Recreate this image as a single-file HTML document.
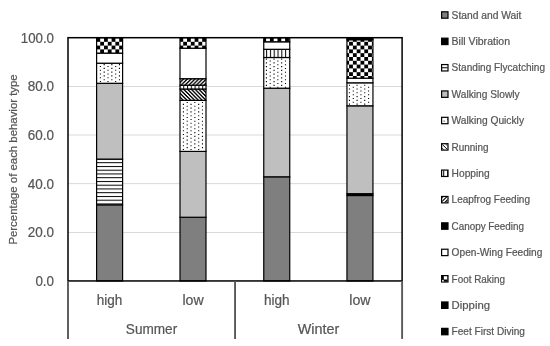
<!DOCTYPE html>
<html lang="en"><head><meta charset="utf-8"><title>Percentage of each behavior type</title>
<style>
html,body{margin:0;padding:0;background:#fff;}
body{width:550px;height:346px;overflow:hidden;}
svg{display:block;}
text{font-family:"Liberation Sans",Arial,sans-serif;fill:#565656;stroke:#565656;stroke-width:0.22px;}
</style></head><body>
<svg width="550" height="346" viewBox="0 0 550 346">
<defs>
<pattern id="hs1" patternUnits="userSpaceOnUse" x="1.4" y="0.95" width="3.8" height="3.75"><rect width="7.6" height="7.6" fill="#fff"/><rect x="0" y="0" width="3.8" height="1" fill="#000"/></pattern>
<pattern id="vs1" patternUnits="userSpaceOnUse" x="1.4" y="0" width="3.8" height="3.8"><rect width="7.6" height="7.6" fill="#fff"/><rect x="0.05" y="0" width="1" height="3.8" fill="#000"/></pattern>
<pattern id="dt1" patternUnits="userSpaceOnUse" x="1.4" y="0" width="7.6" height="3.8"><rect width="7.6" height="7.6" fill="#fff"/><g fill="#000"><rect x="-0.33" y="1.48" width="1.05" height="1.05"/><rect x="7.27" y="1.48" width="1.05" height="1.05"/><rect x="3.48" y="-0.43" width="1.05" height="1.05"/><rect x="3.48" y="3.38" width="1.05" height="1.05"/></g></pattern>
<pattern id="ck1" patternUnits="userSpaceOnUse" x="1.4" y="0" width="7.6" height="7.6"><rect width="7.6" height="7.6" fill="#fff"/><rect x="3.8" y="0" width="3.8" height="3.8" fill="#000"/><rect x="0" y="3.8" width="3.8" height="3.8" fill="#000"/></pattern>
<pattern id="dd1" patternUnits="userSpaceOnUse" x="1.40" y="0" width="3.8" height="3.8"><rect width="7.6" height="7.6" fill="#fff"/><g fill="#000"><rect x="1.90" y="0.00" width="0.97" height="0.97"/><rect x="2.85" y="0.00" width="0.97" height="0.97"/><rect x="2.85" y="0.95" width="0.97" height="0.97"/><rect x="0.00" y="0.95" width="0.97" height="0.97"/><rect x="0.00" y="1.90" width="0.97" height="0.97"/><rect x="0.95" y="1.90" width="0.97" height="0.97"/><rect x="0.95" y="2.85" width="0.97" height="0.97"/><rect x="1.90" y="2.85" width="0.97" height="0.97"/></g></pattern>
<pattern id="du1" patternUnits="userSpaceOnUse" x="1.40" y="0" width="3.8" height="3.8"><rect width="7.6" height="7.6" fill="#fff"/><g fill="#000"><rect x="1.90" y="0.00" width="0.97" height="0.97"/><rect x="2.85" y="0.00" width="0.97" height="0.97"/><rect x="0.95" y="0.95" width="0.97" height="0.97"/><rect x="1.90" y="0.95" width="0.97" height="0.97"/><rect x="0.00" y="1.90" width="0.97" height="0.97"/><rect x="0.95" y="1.90" width="0.97" height="0.97"/><rect x="2.85" y="2.85" width="0.97" height="0.97"/><rect x="0.00" y="2.85" width="0.97" height="0.97"/></g></pattern>
<pattern id="hs2" patternUnits="userSpaceOnUse" x="0.8" y="0.95" width="3.8" height="3.75"><rect width="7.6" height="7.6" fill="#fff"/><rect x="0" y="0" width="3.8" height="1" fill="#000"/></pattern>
<pattern id="vs2" patternUnits="userSpaceOnUse" x="0.8" y="0" width="3.8" height="3.8"><rect width="7.6" height="7.6" fill="#fff"/><rect x="0.05" y="0" width="1" height="3.8" fill="#000"/></pattern>
<pattern id="dt2" patternUnits="userSpaceOnUse" x="0.8" y="0" width="7.6" height="3.8"><rect width="7.6" height="7.6" fill="#fff"/><g fill="#000"><rect x="-0.33" y="1.48" width="1.05" height="1.05"/><rect x="7.27" y="1.48" width="1.05" height="1.05"/><rect x="3.48" y="-0.43" width="1.05" height="1.05"/><rect x="3.48" y="3.38" width="1.05" height="1.05"/></g></pattern>
<pattern id="ck2" patternUnits="userSpaceOnUse" x="0.8" y="0" width="7.6" height="7.6"><rect width="7.6" height="7.6" fill="#fff"/><rect x="3.8" y="0" width="3.8" height="3.8" fill="#000"/><rect x="0" y="3.8" width="3.8" height="3.8" fill="#000"/></pattern>
<pattern id="dd2" patternUnits="userSpaceOnUse" x="0.80" y="0" width="3.8" height="3.8"><rect width="7.6" height="7.6" fill="#fff"/><g fill="#000"><rect x="1.90" y="0.00" width="0.97" height="0.97"/><rect x="2.85" y="0.00" width="0.97" height="0.97"/><rect x="2.85" y="0.95" width="0.97" height="0.97"/><rect x="0.00" y="0.95" width="0.97" height="0.97"/><rect x="0.00" y="1.90" width="0.97" height="0.97"/><rect x="0.95" y="1.90" width="0.97" height="0.97"/><rect x="0.95" y="2.85" width="0.97" height="0.97"/><rect x="1.90" y="2.85" width="0.97" height="0.97"/></g></pattern>
<pattern id="du2" patternUnits="userSpaceOnUse" x="0.80" y="0" width="3.8" height="3.8"><rect width="7.6" height="7.6" fill="#fff"/><g fill="#000"><rect x="1.90" y="0.00" width="0.97" height="0.97"/><rect x="2.85" y="0.00" width="0.97" height="0.97"/><rect x="0.95" y="0.95" width="0.97" height="0.97"/><rect x="1.90" y="0.95" width="0.97" height="0.97"/><rect x="0.00" y="1.90" width="0.97" height="0.97"/><rect x="0.95" y="1.90" width="0.97" height="0.97"/><rect x="2.85" y="2.85" width="0.97" height="0.97"/><rect x="0.00" y="2.85" width="0.97" height="0.97"/></g></pattern>
<pattern id="hs3" patternUnits="userSpaceOnUse" x="0.1" y="0.95" width="3.8" height="3.75"><rect width="7.6" height="7.6" fill="#fff"/><rect x="0" y="0" width="3.8" height="1" fill="#000"/></pattern>
<pattern id="vs3" patternUnits="userSpaceOnUse" x="0.1" y="0" width="3.8" height="3.8"><rect width="7.6" height="7.6" fill="#fff"/><rect x="0.05" y="0" width="1" height="3.8" fill="#000"/></pattern>
<pattern id="dt3" patternUnits="userSpaceOnUse" x="0.1" y="0" width="7.6" height="3.8"><rect width="7.6" height="7.6" fill="#fff"/><g fill="#000"><rect x="-0.33" y="1.48" width="1.05" height="1.05"/><rect x="7.27" y="1.48" width="1.05" height="1.05"/><rect x="3.48" y="-0.43" width="1.05" height="1.05"/><rect x="3.48" y="3.38" width="1.05" height="1.05"/></g></pattern>
<pattern id="ck3" patternUnits="userSpaceOnUse" x="0.1" y="0" width="7.6" height="7.6"><rect width="7.6" height="7.6" fill="#fff"/><rect x="3.8" y="0" width="3.8" height="3.8" fill="#000"/><rect x="0" y="3.8" width="3.8" height="3.8" fill="#000"/></pattern>
<pattern id="dd3" patternUnits="userSpaceOnUse" x="0.10" y="0" width="3.8" height="3.8"><rect width="7.6" height="7.6" fill="#fff"/><g fill="#000"><rect x="1.90" y="0.00" width="0.97" height="0.97"/><rect x="2.85" y="0.00" width="0.97" height="0.97"/><rect x="2.85" y="0.95" width="0.97" height="0.97"/><rect x="0.00" y="0.95" width="0.97" height="0.97"/><rect x="0.00" y="1.90" width="0.97" height="0.97"/><rect x="0.95" y="1.90" width="0.97" height="0.97"/><rect x="0.95" y="2.85" width="0.97" height="0.97"/><rect x="1.90" y="2.85" width="0.97" height="0.97"/></g></pattern>
<pattern id="du3" patternUnits="userSpaceOnUse" x="0.10" y="0" width="3.8" height="3.8"><rect width="7.6" height="7.6" fill="#fff"/><g fill="#000"><rect x="1.90" y="0.00" width="0.97" height="0.97"/><rect x="2.85" y="0.00" width="0.97" height="0.97"/><rect x="0.95" y="0.95" width="0.97" height="0.97"/><rect x="1.90" y="0.95" width="0.97" height="0.97"/><rect x="0.00" y="1.90" width="0.97" height="0.97"/><rect x="0.95" y="1.90" width="0.97" height="0.97"/><rect x="2.85" y="2.85" width="0.97" height="0.97"/><rect x="0.00" y="2.85" width="0.97" height="0.97"/></g></pattern>
<pattern id="hs4" patternUnits="userSpaceOnUse" x="-0.5" y="0.95" width="3.8" height="3.75"><rect width="7.6" height="7.6" fill="#fff"/><rect x="0" y="0" width="3.8" height="1" fill="#000"/></pattern>
<pattern id="vs4" patternUnits="userSpaceOnUse" x="-0.5" y="0" width="3.8" height="3.8"><rect width="7.6" height="7.6" fill="#fff"/><rect x="0.05" y="0" width="1" height="3.8" fill="#000"/></pattern>
<pattern id="dt4" patternUnits="userSpaceOnUse" x="-0.5" y="0" width="7.6" height="3.8"><rect width="7.6" height="7.6" fill="#fff"/><g fill="#000"><rect x="-0.33" y="1.48" width="1.05" height="1.05"/><rect x="7.27" y="1.48" width="1.05" height="1.05"/><rect x="3.48" y="-0.43" width="1.05" height="1.05"/><rect x="3.48" y="3.38" width="1.05" height="1.05"/></g></pattern>
<pattern id="ck4" patternUnits="userSpaceOnUse" x="-0.5" y="0" width="7.6" height="7.6"><rect width="7.6" height="7.6" fill="#fff"/><rect x="3.8" y="0" width="3.8" height="3.8" fill="#000"/><rect x="0" y="3.8" width="3.8" height="3.8" fill="#000"/></pattern>
<pattern id="dd4" patternUnits="userSpaceOnUse" x="-0.50" y="0" width="3.8" height="3.8"><rect width="7.6" height="7.6" fill="#fff"/><g fill="#000"><rect x="1.90" y="0.00" width="0.97" height="0.97"/><rect x="2.85" y="0.00" width="0.97" height="0.97"/><rect x="2.85" y="0.95" width="0.97" height="0.97"/><rect x="0.00" y="0.95" width="0.97" height="0.97"/><rect x="0.00" y="1.90" width="0.97" height="0.97"/><rect x="0.95" y="1.90" width="0.97" height="0.97"/><rect x="0.95" y="2.85" width="0.97" height="0.97"/><rect x="1.90" y="2.85" width="0.97" height="0.97"/></g></pattern>
<pattern id="du4" patternUnits="userSpaceOnUse" x="-0.50" y="0" width="3.8" height="3.8"><rect width="7.6" height="7.6" fill="#fff"/><g fill="#000"><rect x="1.90" y="0.00" width="0.97" height="0.97"/><rect x="2.85" y="0.00" width="0.97" height="0.97"/><rect x="0.95" y="0.95" width="0.97" height="0.97"/><rect x="1.90" y="0.95" width="0.97" height="0.97"/><rect x="0.00" y="1.90" width="0.97" height="0.97"/><rect x="0.95" y="1.90" width="0.97" height="0.97"/><rect x="2.85" y="2.85" width="0.97" height="0.97"/><rect x="0.00" y="2.85" width="0.97" height="0.97"/></g></pattern>
</defs>
<rect width="550" height="346" fill="#fff"/>
<line x1="68.0" x2="402.1" y1="232.50" y2="232.50" stroke="#d9d9d9" stroke-width="1"/>
<line x1="68.0" x2="402.1" y1="183.65" y2="183.65" stroke="#d9d9d9" stroke-width="1"/>
<line x1="68.0" x2="402.1" y1="135.00" y2="135.00" stroke="#d9d9d9" stroke-width="1"/>
<line x1="68.0" x2="402.1" y1="86.50" y2="86.50" stroke="#d9d9d9" stroke-width="1"/>
<rect x="96.60" y="204.80" width="26.0" height="76.15" fill="#7f7f7f" stroke="#000" stroke-width="1.2"/>
<rect x="96.60" y="159.10" width="26.0" height="45.70" fill="url(#hs1)" stroke="#000" stroke-width="1.2"/>
<rect x="96.60" y="83.30" width="26.0" height="75.80" fill="#bfbfbf" stroke="#000" stroke-width="1.2"/>
<rect x="96.60" y="63.20" width="26.0" height="20.10" fill="#fff" stroke="#000" stroke-width="1.2"/>
<path fill="#000" d="M99.85,65.95h1.1v1.1h-1.1zM107.49,65.95h1.1v1.1h-1.1zM115.13,65.95h1.1v1.1h-1.1zM99.85,69.71h1.1v1.1h-1.1zM107.49,69.71h1.1v1.1h-1.1zM115.13,69.71h1.1v1.1h-1.1zM99.85,73.47h1.1v1.1h-1.1zM107.49,73.47h1.1v1.1h-1.1zM115.13,73.47h1.1v1.1h-1.1zM99.85,77.23h1.1v1.1h-1.1zM107.49,77.23h1.1v1.1h-1.1zM115.13,77.23h1.1v1.1h-1.1zM99.85,80.99h1.1v1.1h-1.1zM107.49,80.99h1.1v1.1h-1.1zM115.13,80.99h1.1v1.1h-1.1zM103.65,64.09h1.1v1.1h-1.1zM111.29,64.09h1.1v1.1h-1.1zM118.93,64.09h1.1v1.1h-1.1zM103.65,67.85h1.1v1.1h-1.1zM111.29,67.85h1.1v1.1h-1.1zM118.93,67.85h1.1v1.1h-1.1zM103.65,71.61h1.1v1.1h-1.1zM111.29,71.61h1.1v1.1h-1.1zM118.93,71.61h1.1v1.1h-1.1zM103.65,75.37h1.1v1.1h-1.1zM111.29,75.37h1.1v1.1h-1.1zM118.93,75.37h1.1v1.1h-1.1zM103.65,79.13h1.1v1.1h-1.1zM111.29,79.13h1.1v1.1h-1.1zM118.93,79.13h1.1v1.1h-1.1z"/>
<rect x="96.60" y="53.10" width="26.0" height="10.10" fill="#fff" stroke="#000" stroke-width="1.2"/>
<rect x="96.60" y="37.70" width="26.0" height="15.40" fill="url(#ck1)" stroke="#000" stroke-width="1.2"/>
<rect x="180.00" y="217.25" width="26.0" height="63.70" fill="#7f7f7f" stroke="#000" stroke-width="1.2"/>
<rect x="180.00" y="151.40" width="26.0" height="65.85" fill="#bfbfbf" stroke="#000" stroke-width="1.2"/>
<rect x="180.00" y="100.40" width="26.0" height="51.00" fill="#fff" stroke="#000" stroke-width="1.2"/>
<path fill="#000" d="M182.85,103.85h1.1v1.1h-1.1zM190.49,103.85h1.1v1.1h-1.1zM198.13,103.85h1.1v1.1h-1.1zM182.85,107.61h1.1v1.1h-1.1zM190.49,107.61h1.1v1.1h-1.1zM198.13,107.61h1.1v1.1h-1.1zM182.85,111.37h1.1v1.1h-1.1zM190.49,111.37h1.1v1.1h-1.1zM198.13,111.37h1.1v1.1h-1.1zM182.85,115.13h1.1v1.1h-1.1zM190.49,115.13h1.1v1.1h-1.1zM198.13,115.13h1.1v1.1h-1.1zM182.85,118.89h1.1v1.1h-1.1zM190.49,118.89h1.1v1.1h-1.1zM198.13,118.89h1.1v1.1h-1.1zM182.85,122.65h1.1v1.1h-1.1zM190.49,122.65h1.1v1.1h-1.1zM198.13,122.65h1.1v1.1h-1.1zM182.85,126.41h1.1v1.1h-1.1zM190.49,126.41h1.1v1.1h-1.1zM198.13,126.41h1.1v1.1h-1.1zM182.85,130.17h1.1v1.1h-1.1zM190.49,130.17h1.1v1.1h-1.1zM198.13,130.17h1.1v1.1h-1.1zM182.85,133.93h1.1v1.1h-1.1zM190.49,133.93h1.1v1.1h-1.1zM198.13,133.93h1.1v1.1h-1.1zM182.85,137.69h1.1v1.1h-1.1zM190.49,137.69h1.1v1.1h-1.1zM198.13,137.69h1.1v1.1h-1.1zM182.85,141.45h1.1v1.1h-1.1zM190.49,141.45h1.1v1.1h-1.1zM198.13,141.45h1.1v1.1h-1.1zM182.85,145.21h1.1v1.1h-1.1zM190.49,145.21h1.1v1.1h-1.1zM198.13,145.21h1.1v1.1h-1.1zM182.85,148.97h1.1v1.1h-1.1zM190.49,148.97h1.1v1.1h-1.1zM198.13,148.97h1.1v1.1h-1.1zM186.65,101.95h1.1v1.1h-1.1zM194.29,101.95h1.1v1.1h-1.1zM201.93,101.95h1.1v1.1h-1.1zM186.65,105.71h1.1v1.1h-1.1zM194.29,105.71h1.1v1.1h-1.1zM201.93,105.71h1.1v1.1h-1.1zM186.65,109.47h1.1v1.1h-1.1zM194.29,109.47h1.1v1.1h-1.1zM201.93,109.47h1.1v1.1h-1.1zM186.65,113.23h1.1v1.1h-1.1zM194.29,113.23h1.1v1.1h-1.1zM201.93,113.23h1.1v1.1h-1.1zM186.65,116.99h1.1v1.1h-1.1zM194.29,116.99h1.1v1.1h-1.1zM201.93,116.99h1.1v1.1h-1.1zM186.65,120.75h1.1v1.1h-1.1zM194.29,120.75h1.1v1.1h-1.1zM201.93,120.75h1.1v1.1h-1.1zM186.65,124.51h1.1v1.1h-1.1zM194.29,124.51h1.1v1.1h-1.1zM201.93,124.51h1.1v1.1h-1.1zM186.65,128.27h1.1v1.1h-1.1zM194.29,128.27h1.1v1.1h-1.1zM201.93,128.27h1.1v1.1h-1.1zM186.65,132.03h1.1v1.1h-1.1zM194.29,132.03h1.1v1.1h-1.1zM201.93,132.03h1.1v1.1h-1.1zM186.65,135.79h1.1v1.1h-1.1zM194.29,135.79h1.1v1.1h-1.1zM201.93,135.79h1.1v1.1h-1.1zM186.65,139.55h1.1v1.1h-1.1zM194.29,139.55h1.1v1.1h-1.1zM201.93,139.55h1.1v1.1h-1.1zM186.65,143.31h1.1v1.1h-1.1zM194.29,143.31h1.1v1.1h-1.1zM201.93,143.31h1.1v1.1h-1.1zM186.65,147.07h1.1v1.1h-1.1zM194.29,147.07h1.1v1.1h-1.1zM201.93,147.07h1.1v1.1h-1.1z"/>
<rect x="180.00" y="89.00" width="26.0" height="11.40" fill="url(#dd2)" stroke="#000" stroke-width="1.2"/>
<rect x="180.00" y="85.20" width="26.0" height="3.80" fill="url(#vs2)" stroke="#000" stroke-width="1.2"/>
<rect x="180.00" y="78.70" width="26.0" height="6.50" fill="url(#du2)" stroke="#000" stroke-width="1.2"/>
<rect x="180.00" y="48.20" width="26.0" height="30.50" fill="#fff" stroke="#000" stroke-width="1.2"/>
<rect x="180.00" y="37.70" width="26.0" height="10.50" fill="url(#ck2)" stroke="#000" stroke-width="1.2"/>
<rect x="263.75" y="176.80" width="26.0" height="104.15" fill="#7f7f7f" stroke="#000" stroke-width="1.2"/>
<rect x="263.75" y="88.20" width="26.0" height="88.60" fill="#bfbfbf" stroke="#000" stroke-width="1.2"/>
<rect x="263.75" y="57.50" width="26.0" height="30.70" fill="#fff" stroke="#000" stroke-width="1.2"/>
<path fill="#000" d="M265.85,58.55h1.1v1.1h-1.1zM273.49,58.55h1.1v1.1h-1.1zM281.13,58.55h1.1v1.1h-1.1zM265.85,62.31h1.1v1.1h-1.1zM273.49,62.31h1.1v1.1h-1.1zM281.13,62.31h1.1v1.1h-1.1zM265.85,66.07h1.1v1.1h-1.1zM273.49,66.07h1.1v1.1h-1.1zM281.13,66.07h1.1v1.1h-1.1zM265.85,69.83h1.1v1.1h-1.1zM273.49,69.83h1.1v1.1h-1.1zM281.13,69.83h1.1v1.1h-1.1zM265.85,73.59h1.1v1.1h-1.1zM273.49,73.59h1.1v1.1h-1.1zM281.13,73.59h1.1v1.1h-1.1zM265.85,77.35h1.1v1.1h-1.1zM273.49,77.35h1.1v1.1h-1.1zM281.13,77.35h1.1v1.1h-1.1zM265.85,81.11h1.1v1.1h-1.1zM273.49,81.11h1.1v1.1h-1.1zM281.13,81.11h1.1v1.1h-1.1zM265.85,84.87h1.1v1.1h-1.1zM273.49,84.87h1.1v1.1h-1.1zM281.13,84.87h1.1v1.1h-1.1zM269.65,60.4h1.1v1.1h-1.1zM277.29,60.4h1.1v1.1h-1.1zM284.93,60.4h1.1v1.1h-1.1zM269.65,64.16h1.1v1.1h-1.1zM277.29,64.16h1.1v1.1h-1.1zM284.93,64.16h1.1v1.1h-1.1zM269.65,67.92h1.1v1.1h-1.1zM277.29,67.92h1.1v1.1h-1.1zM284.93,67.92h1.1v1.1h-1.1zM269.65,71.68h1.1v1.1h-1.1zM277.29,71.68h1.1v1.1h-1.1zM284.93,71.68h1.1v1.1h-1.1zM269.65,75.44h1.1v1.1h-1.1zM277.29,75.44h1.1v1.1h-1.1zM284.93,75.44h1.1v1.1h-1.1zM269.65,79.2h1.1v1.1h-1.1zM277.29,79.2h1.1v1.1h-1.1zM284.93,79.2h1.1v1.1h-1.1zM269.65,82.96h1.1v1.1h-1.1zM277.29,82.96h1.1v1.1h-1.1zM284.93,82.96h1.1v1.1h-1.1zM269.65,86.72h1.1v1.1h-1.1zM277.29,86.72h1.1v1.1h-1.1zM284.93,86.72h1.1v1.1h-1.1z"/>
<rect x="263.75" y="49.30" width="26.0" height="8.20" fill="url(#vs3)" stroke="#000" stroke-width="1.2"/>
<rect x="263.75" y="41.80" width="26.0" height="7.50" fill="#fff" stroke="#000" stroke-width="1.2"/>
<rect x="263.75" y="37.70" width="26.0" height="4.10" fill="url(#ck3)" stroke="#000" stroke-width="1.2"/>
<rect x="346.95" y="195.50" width="26.0" height="85.45" fill="#7f7f7f" stroke="#000" stroke-width="1.2"/>
<rect x="346.95" y="193.70" width="26.0" height="1.80" fill="#000" stroke="#000" stroke-width="1.2"/>
<rect x="346.95" y="105.80" width="26.0" height="87.90" fill="#bfbfbf" stroke="#000" stroke-width="1.2"/>
<rect x="346.95" y="82.80" width="26.0" height="23.00" fill="#fff" stroke="#000" stroke-width="1.2"/>
<path fill="#000" d="M348.9,84.75h1.1v1.1h-1.1zM356.54,84.75h1.1v1.1h-1.1zM364.18,84.75h1.1v1.1h-1.1zM348.9,88.51h1.1v1.1h-1.1zM356.54,88.51h1.1v1.1h-1.1zM364.18,88.51h1.1v1.1h-1.1zM348.9,92.27h1.1v1.1h-1.1zM356.54,92.27h1.1v1.1h-1.1zM364.18,92.27h1.1v1.1h-1.1zM348.9,96.03h1.1v1.1h-1.1zM356.54,96.03h1.1v1.1h-1.1zM364.18,96.03h1.1v1.1h-1.1zM348.9,99.79h1.1v1.1h-1.1zM356.54,99.79h1.1v1.1h-1.1zM364.18,99.79h1.1v1.1h-1.1zM348.9,103.55h1.1v1.1h-1.1zM356.54,103.55h1.1v1.1h-1.1zM364.18,103.55h1.1v1.1h-1.1zM352.75,86.65h1.1v1.1h-1.1zM360.39,86.65h1.1v1.1h-1.1zM368.03,86.65h1.1v1.1h-1.1zM352.75,90.41h1.1v1.1h-1.1zM360.39,90.41h1.1v1.1h-1.1zM368.03,90.41h1.1v1.1h-1.1zM352.75,94.17h1.1v1.1h-1.1zM360.39,94.17h1.1v1.1h-1.1zM368.03,94.17h1.1v1.1h-1.1zM352.75,97.93h1.1v1.1h-1.1zM360.39,97.93h1.1v1.1h-1.1zM368.03,97.93h1.1v1.1h-1.1zM352.75,101.69h1.1v1.1h-1.1zM360.39,101.69h1.1v1.1h-1.1zM368.03,101.69h1.1v1.1h-1.1z"/>
<rect x="346.95" y="78.20" width="26.0" height="4.60" fill="#fff" stroke="#000" stroke-width="1.2"/>
<rect x="346.95" y="39.70" width="26.0" height="38.50" fill="url(#ck4)" stroke="#000" stroke-width="1.2"/>
<rect x="346.95" y="37.70" width="26.0" height="2.00" fill="#000" stroke="#000" stroke-width="1.2"/>
<rect x="68.0" y="37.7" width="334.10" height="243.25" fill="none" stroke="#000" stroke-width="1.5"/>
<line x1="68.00" x2="68.00" y1="280.95" y2="338.9" stroke="#595959" stroke-width="1.9"/>
<line x1="235.05" x2="235.05" y1="280.95" y2="338.9" stroke="#595959" stroke-width="1.9"/>
<line x1="402.10" x2="402.10" y1="280.95" y2="338.9" stroke="#595959" stroke-width="1.9"/>
<text x="54.00" y="286.05" font-size="13.8" text-anchor="end" textLength="18.60" lengthAdjust="spacingAndGlyphs">0.0</text>
<text x="54.00" y="237.40" font-size="13.8" text-anchor="end" textLength="26.20" lengthAdjust="spacingAndGlyphs">20.0</text>
<text x="54.00" y="188.75" font-size="13.8" text-anchor="end" textLength="26.20" lengthAdjust="spacingAndGlyphs">40.0</text>
<text x="54.00" y="140.10" font-size="13.8" text-anchor="end" textLength="26.20" lengthAdjust="spacingAndGlyphs">60.0</text>
<text x="54.00" y="91.45" font-size="13.8" text-anchor="end" textLength="26.20" lengthAdjust="spacingAndGlyphs">80.0</text>
<text x="54.00" y="42.80" font-size="13.8" text-anchor="end" textLength="33.20" lengthAdjust="spacingAndGlyphs">100.0</text>
<text x="109.60" y="304.60" font-size="13.8" text-anchor="middle" textLength="25.60" lengthAdjust="spacingAndGlyphs">high</text>
<text x="193.00" y="304.60" font-size="13.8" text-anchor="middle" textLength="21.20" lengthAdjust="spacingAndGlyphs">low</text>
<text x="276.75" y="304.60" font-size="13.8" text-anchor="middle" textLength="25.60" lengthAdjust="spacingAndGlyphs">high</text>
<text x="359.95" y="304.60" font-size="13.8" text-anchor="middle" textLength="21.20" lengthAdjust="spacingAndGlyphs">low</text>
<text x="151.53" y="334.30" font-size="13.8" text-anchor="middle" textLength="51.40" lengthAdjust="spacingAndGlyphs">Summer</text>
<text x="318.58" y="334.30" font-size="13.8" text-anchor="middle" textLength="41.60" lengthAdjust="spacingAndGlyphs">Winter</text>
<text transform="translate(17.3,244.6) rotate(-90)" font-size="10.7" textLength="170.3" lengthAdjust="spacingAndGlyphs">Percentage of each behavior type</text>
<rect x="441.60" y="11.80" width="6.40" height="6.40" fill="#7f7f7f" stroke="#000" stroke-width="1.2"/>
<text x="451.60" y="18.70" font-size="10.3" text-anchor="start" textLength="69.80" lengthAdjust="spacingAndGlyphs">Stand and Wait</text>
<rect x="441.60" y="38.18" width="6.40" height="6.40" fill="#000" stroke="#000" stroke-width="1.2"/>
<text x="451.60" y="45.08" font-size="10.3" text-anchor="start" textLength="58.40" lengthAdjust="spacingAndGlyphs">Bill Vibration</text>
<rect x="441.60" y="64.56" width="6.40" height="6.40" fill="#fff" stroke="#000" stroke-width="1.2"/>
<rect x="442.00" y="67.26" width="5.60" height="1" fill="#000"/>
<text x="451.60" y="71.46" font-size="10.3" text-anchor="start" textLength="93.40" lengthAdjust="spacingAndGlyphs">Standing Flycatching</text>
<rect x="441.60" y="90.94" width="6.40" height="6.40" fill="#bfbfbf" stroke="#000" stroke-width="1.2"/>
<text x="451.60" y="97.84" font-size="10.3" text-anchor="start" textLength="68.00" lengthAdjust="spacingAndGlyphs">Walking Slowly</text>
<rect x="441.60" y="117.32" width="6.40" height="6.40" fill="#fff" stroke="#000" stroke-width="1.2"/>
<rect x="443.60" y="120.62" width="1" height="1" fill="#000"/>
<rect x="447.00" y="118.72" width="0.8" height="1" fill="#000"/>
<text x="451.60" y="124.22" font-size="10.3" text-anchor="start" textLength="72.40" lengthAdjust="spacingAndGlyphs">Walking Quickly</text>
<rect x="441.60" y="143.70" width="6.40" height="6.40" fill="#fff" stroke="#000" stroke-width="1.2"/>
<svg x="442.20" y="144.30" width="5.20" height="5.20" viewBox="0 0 5.2 5.2"><path d="M-1,-1 L6.2,6.2 M-1,2.8 L2.4,6.2 M2.8,-1 L6.2,2.4" stroke="#000" stroke-width="1.0" fill="none"/></svg>
<text x="451.60" y="150.60" font-size="10.3" text-anchor="start" textLength="37.00" lengthAdjust="spacingAndGlyphs">Running</text>
<rect x="441.60" y="170.08" width="6.40" height="6.40" fill="#fff" stroke="#000" stroke-width="1.2"/>
<rect x="443.20" y="170.48" width="1" height="5.60" fill="#000"/>
<rect x="447.00" y="170.48" width="0.8" height="5.60" fill="#000"/>
<text x="451.60" y="176.98" font-size="10.3" text-anchor="start" textLength="38.00" lengthAdjust="spacingAndGlyphs">Hopping</text>
<rect x="441.60" y="196.46" width="6.40" height="6.40" fill="#fff" stroke="#000" stroke-width="1.2"/>
<svg x="442.20" y="197.06" width="5.20" height="5.20" viewBox="0 0 5.2 5.2"><path d="M-1,1.5 L1.5,-1 M-1,5.3 L5.3,-1 M1.9,6.2 L6.2,1.9" stroke="#000" stroke-width="1.1" fill="none"/></svg>
<text x="451.60" y="203.36" font-size="10.3" text-anchor="start" textLength="78.40" lengthAdjust="spacingAndGlyphs">Leapfrog Feeding</text>
<rect x="441.60" y="222.84" width="6.40" height="6.40" fill="#000" stroke="#000" stroke-width="1.2"/>
<text x="451.60" y="229.74" font-size="10.3" text-anchor="start" textLength="72.40" lengthAdjust="spacingAndGlyphs">Canopy Feeding</text>
<rect x="441.60" y="249.22" width="6.40" height="6.40" fill="#fff" stroke="#000" stroke-width="1.2"/>
<text x="451.60" y="256.12" font-size="10.3" text-anchor="start" textLength="90.80" lengthAdjust="spacingAndGlyphs">Open-Wing Feeding</text>
<rect x="441.60" y="275.60" width="6.40" height="6.40" fill="#fff" stroke="#000" stroke-width="1.2"/>
<rect x="442.00" y="276.00" width="5.60" height="5.60" fill="#000"/>
<rect x="443.80" y="276.20" width="3.3" height="3.3" fill="#fff"/>
<rect x="442.10" y="279.90" width="1.6" height="1.6" fill="#fff"/>
<text x="451.60" y="282.50" font-size="10.3" text-anchor="start" textLength="53.40" lengthAdjust="spacingAndGlyphs">Foot Raking</text>
<rect x="441.60" y="301.98" width="6.40" height="6.40" fill="#000" stroke="#000" stroke-width="1.2"/>
<text x="451.60" y="308.88" font-size="10.3" text-anchor="start" textLength="38.40" lengthAdjust="spacingAndGlyphs">Dipping</text>
<rect x="441.60" y="328.36" width="6.40" height="6.40" fill="#000" stroke="#000" stroke-width="1.2"/>
<text x="451.60" y="335.26" font-size="10.3" text-anchor="start" textLength="73.40" lengthAdjust="spacingAndGlyphs">Feet First Diving</text>
</svg>
</body></html>
